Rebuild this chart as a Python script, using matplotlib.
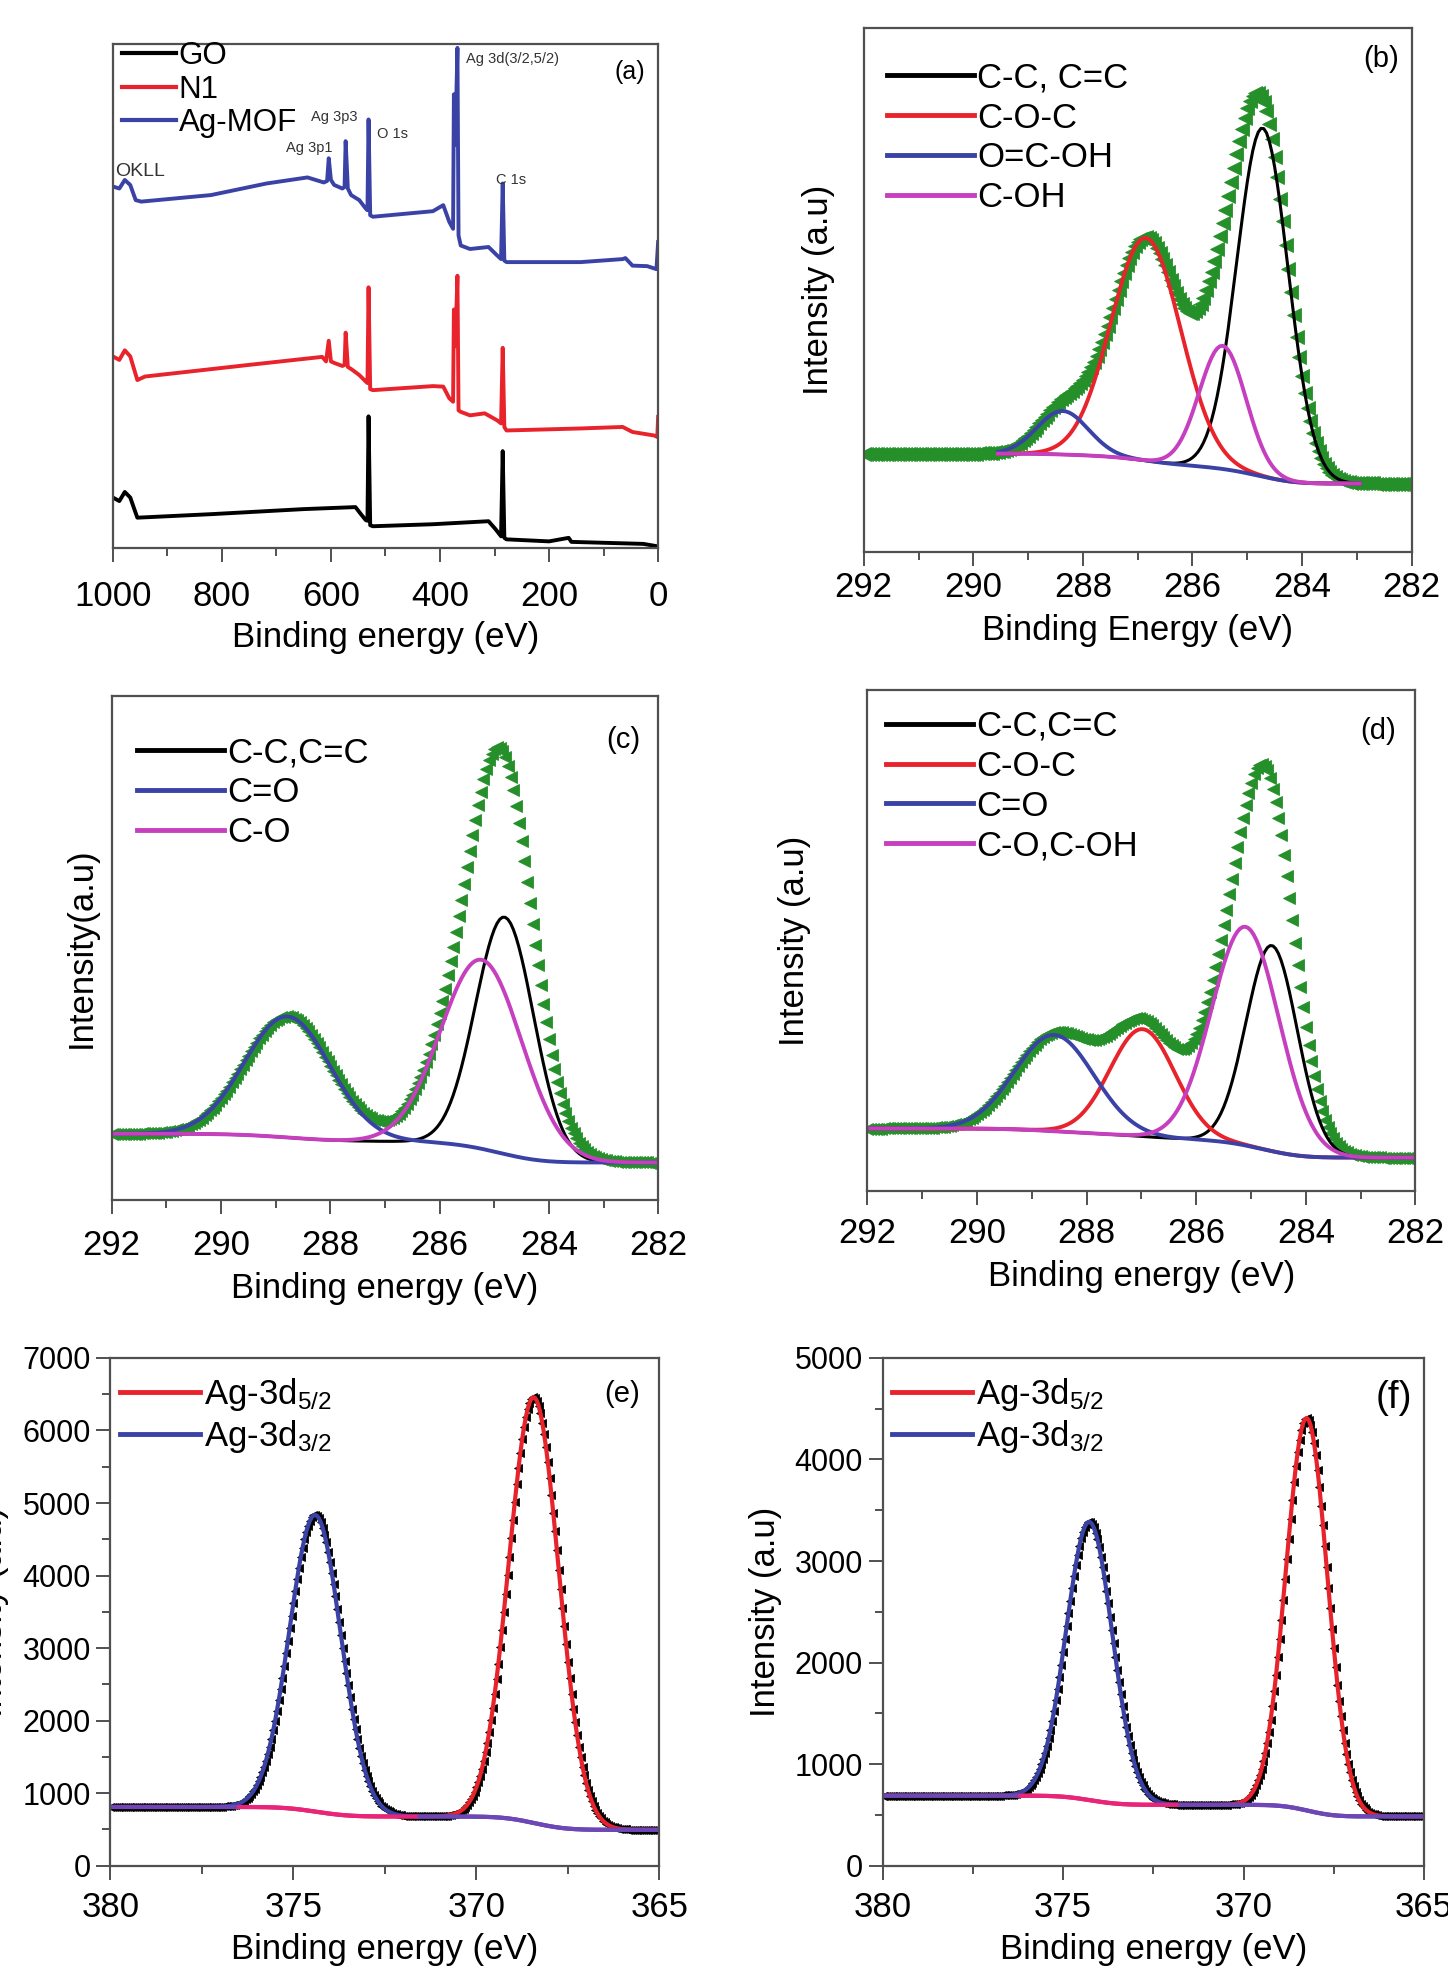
import numpy as np
import matplotlib
matplotlib.use("Agg")
import matplotlib.pyplot as plt
from matplotlib.ticker import MultipleLocator

plt.rcParams['font.family'] = ['Liberation Sans', 'DejaVu Sans']
plt.rcParams['mathtext.fontset'] = 'custom'
plt.rcParams['mathtext.rm'] = 'Liberation Sans'
plt.rcParams['mathtext.it'] = 'Liberation Sans:italic'

RED = '#e8232b'
BLUE = '#3a42a6'
MAGENTA = '#c53fbf'
GREEN = '#25902a'
PINK = '#e8247c'
PURPLE = '#6f46b5'
SPINE = '#505050'

# ---- (a) survey spectra (binding energy eV, intensity a.u. with offsets)
go_ev = [1000, 988, 978, 968, 955, 819, 650, 555, 545, 536, 533, 531, 528, 523,
         413, 311, 298, 288, 285, 282, 278, 200, 164, 159, 27, 0]
go_int = [0.100, 0.093, 0.111, 0.100, 0.060, 0.067, 0.077, 0.081, 0.067, 0.055,
          0.054, 0.261, 0.045, 0.043, 0.047, 0.053, 0.037, 0.023, 0.192, 0.020,
          0.017, 0.013, 0.020, 0.012, 0.008, 0.003]
n1_ev = [1000, 988, 978, 968, 955, 941, 751, 616, 609, 604, 600, 594, 579, 575,
         573, 569, 563, 548, 536, 533, 531, 528, 523, 413, 394, 383, 376, 374.5,
         372, 368, 366, 362, 345, 318, 295, 288, 285, 282, 278, 142, 65, 47, 7,
         1.5, 0]
n1_int = [0.380, 0.373, 0.392, 0.380, 0.333, 0.340, 0.363, 0.379, 0.370, 0.411,
          0.370, 0.367, 0.361, 0.363, 0.427, 0.359, 0.355, 0.343, 0.330, 0.327,
          0.517, 0.315, 0.313, 0.321, 0.320, 0.297, 0.290, 0.473, 0.400, 0.540,
          0.273, 0.270, 0.263, 0.267, 0.253, 0.247, 0.397, 0.240, 0.233, 0.237,
          0.240, 0.230, 0.223, 0.220, 0.260]
agmof_ev = [1000, 988, 978, 968, 958, 948, 820, 718, 643, 613, 607, 604, 600, 594,
            579, 575, 573, 569, 563, 548, 536, 533, 531, 528, 523, 413, 394, 383,
            376, 374.5, 372, 368, 366, 362, 345, 311, 295, 288, 285, 282, 278, 142,
            65, 60, 47, 20, 3, 0]
agmof_int = [0.717, 0.713, 0.730, 0.720, 0.690, 0.687, 0.700, 0.723, 0.735, 0.725,
             0.728, 0.773, 0.730, 0.720, 0.713, 0.716, 0.807, 0.713, 0.700, 0.690,
             0.673, 0.670, 0.850, 0.660, 0.657, 0.668, 0.680, 0.647, 0.633, 0.900,
             0.800, 0.992, 0.620, 0.600, 0.593, 0.597, 0.580, 0.573, 0.723, 0.570,
             0.567, 0.567, 0.573, 0.575, 0.560, 0.559, 0.553, 0.607]
survey_notes = ['OKLL', 'Ag 3p1', 'Ag 3p3', 'O 1s', 'Ag 3d(3/2,5/2)', 'C 1s']
note_ev = [995, 639, 594, 487, 352, 269]
note_int = [0.747, 0.793, 0.855, 0.821, 0.970, 0.730]

# ---- (b) C1s GO fit: centers (eV), heights, FWHM
b_labels = ['C-C, C=C', 'C-O-C', 'O=C-OH', 'C-OH']
b_centers = [284.72, 286.85, 288.37, 285.45]
b_heights = [0.665, 0.425, 0.083, 0.235]
b_fwhm = [1.10, 1.50, 1.10, 1.00]
b_bg = [0.130, 0.187]          # background at low-BE end, high-BE end
b_range = [282.95, 289.6]

# ---- (c)
c_labels = ['C-C,C=C', 'C=O', 'C-O']
c_centers = [284.81, 288.78, 285.23]
c_heights = [0.470, 0.240, 0.375]
c_fwhm = [1.25, 1.85, 1.75]
c_bg = [0.074, 0.131]
c_range = [282.0, 292.0]

# ---- (d)
d_labels = ['C-C,C=C', 'C-O-C', 'C=O', 'C-O,C-OH']
d_centers = [284.62, 286.98, 288.59, 285.10]
d_heights = [0.410, 0.214, 0.192, 0.436]
d_fwhm = [1.10, 1.40, 1.70, 1.45]
d_bg = [0.067, 0.125]
d_range = [282.0, 292.0]

# ---- (e), (f) Ag 3d
ag_labels = ['Ag-3d$_{5/2}$', 'Ag-3d$_{3/2}$']
e_centers = [368.43, 374.40]
e_heights = [5870, 4090]
e_fwhm = [1.60, 1.65]
e_bg = [495, 810]
e_pink = [371.6, 376.6]
f_centers = [368.25, 374.27]
f_heights = [3865, 2740]
f_fwhm = [1.35, 1.50]
f_bg = [485, 690]
f_pink = [371.8, 376.3]


def gauss(x, c, h, w):
    return h * np.exp(-4 * np.log(2) * ((x - c) / w) ** 2)


def shirley(total, lo, hi):
    cum = np.cumsum(total)
    return lo + (hi - lo) * cum / cum[-1]


def style(ax, xlim, major, minor, pad, left=False):
    for s in ax.spines.values():
        s.set_color(SPINE)
        s.set_linewidth(1.6)
    ax.set_xlim(*xlim)
    ax.xaxis.set_major_locator(MultipleLocator(major))
    ax.xaxis.set_minor_locator(MultipleLocator(minor))
    ax.tick_params(axis='both', which='major', direction='out', length=10, width=1.4,
                   color=SPINE, labelsize=25, pad=4, top=False, right=False)
    ax.tick_params(axis='x', which='major', pad=pad)
    ax.tick_params(axis='both', which='minor', direction='out', length=6, width=1.4,
                   color=SPINE, top=False, right=False)
    if not left:
        ax.set_yticks([])


fig = plt.figure(figsize=(14.48, 19.66), dpi=100)

# ================= (a)
ax = fig.add_axes([0.0779, 0.7213, 0.3766, 0.2564])
ax.plot(go_ev, go_int, color='black', lw=2.8, label='GO')
ax.plot(n1_ev, n1_int, color=RED, lw=2.8, label='N1')
ax.plot(agmof_ev, agmof_int, color=BLUE, lw=2.8, label='Ag-MOF')
style(ax, (1000, 0), 200, 100, 13)
ax.set_ylim(0, 1.0)
for t, xe, yi in zip(survey_notes, note_ev, note_int):
    ha = 'left' if t in ('OKLL', 'Ag 3d(3/2,5/2)') else 'center'
    ax.text(xe, yi, t, fontsize=14 if t == 'OKLL' else 10.5, ha=ha, va='center',
            color='#333333')
ax.text(0.948, 0.945, '(a)', transform=ax.transAxes, fontsize=18, ha='center', va='center')
leg = ax.legend(loc='upper left', bbox_to_anchor=(0.012, 1.012), frameon=False, fontsize=22.5,
                handlelength=1.7, handletextpad=0.1, labelspacing=0.12, borderaxespad=0,
                borderpad=0.1)
for ln in leg.get_lines():
    ln.set_linewidth(3)
ax.set_xlabel('Binding energy (eV)', fontsize=25, labelpad=6)


def fit_panel(rect, centers, heights, fwhm, bg, fit_range, colors, labels,
              ms, ylabel, lpad, tag, tag_xy, leg_xy, pad):
    ax = fig.add_axes(rect)
    grid = np.arange(282.0, 292.0001, 0.05)
    comps = [gauss(grid, c, h, w) for c, h, w in zip(centers, heights, fwhm)]
    total = np.sum(comps, axis=0)
    base = shirley(total, bg[0], bg[1])
    ax.plot(grid, base + total, ls='none', marker='<', ms=ms, color=GREEN,
            markeredgewidth=0.6, markeredgecolor=GREEN)
    inside = (grid >= fit_range[0]) & (grid <= fit_range[1])
    for comp, col, lab in zip(comps, colors, labels):
        ax.plot(grid[inside], (base + comp)[inside], color=col,
                lw=2.2 if col == 'black' else 2.8, label=lab)
    style(ax, (292, 282), 2, 1, pad)
    ax.set_ylim(0, 1)
    ax.set_ylabel(ylabel, fontsize=25, labelpad=lpad)
    ax.text(tag_xy[0], tag_xy[1], tag, transform=ax.transAxes, fontsize=21,
            ha='center', va='center')
    leg = ax.legend(loc='upper left', bbox_to_anchor=leg_xy, frameon=False, fontsize=25,
                    handlelength=2.5, handletextpad=0.1, labelspacing=0.2,
                    borderaxespad=0, borderpad=0)
    for ln in leg.get_lines():
        ln.set_linewidth(3.5)
    return ax


ax = fit_panel([0.5965, 0.7194, 0.3784, 0.2666], b_centers, b_heights, b_fwhm, b_bg,
               b_range, ['black', RED, BLUE, MAGENTA], b_labels, 10,
               'Intensity (a.u)', 21, '(b)', (0.945, 0.94), (0.042, 0.935), 4)
ax.set_xlabel('Binding Energy (eV)', fontsize=25, labelpad=7)

ax = fit_panel([0.0771, 0.3897, 0.3775, 0.2564], c_centers, c_heights, c_fwhm, c_bg,
               c_range, ['black', BLUE, MAGENTA], c_labels, 8.5,
               'Intensity(a.u)', 10, '(c)', (0.936, 0.913), (0.046, 0.92), 11)
ax.set_xlabel('Binding energy (eV)', fontsize=25, labelpad=7)

ax = fit_panel([0.5991, 0.3941, 0.3784, 0.2551], d_centers, d_heights, d_fwhm, d_bg,
               d_range, ['black', RED, BLUE, MAGENTA], d_labels, 8.5,
               'Intensity (a.u)', 41, '(d)', (0.932, 0.918), (0.034, 0.96), 8.5)
ax.set_xlabel('Binding energy (eV)', fontsize=25, labelpad=7)


def ag_panel(rect, centers, heights, fwhm, bg, pink, ymax, tag, tag_xy, tag_size):
    ax = fig.add_axes(rect)
    grid = np.arange(365.0, 380.0001, 0.05)
    comps = [gauss(grid, c, h, w) for c, h, w in zip(centers, heights, fwhm)]
    total = np.sum(comps, axis=0)
    base = shirley(total, bg[0], bg[1])
    ax.plot(grid, base + total, ls='none', marker='<', ms=5.5, color='black',
            markeredgewidth=0.6)
    for comp, col, lab in zip(comps, [RED, BLUE], ag_labels):
        ax.plot(grid, base + comp, color=col, lw=3, label=lab)
    mid = (grid >= pink[0]) & (grid <= pink[1])
    ax.plot(grid, np.where(mid, base, np.nan), color=PINK, lw=3)
    ax.plot(grid, np.where(mid, np.nan, base), color=PURPLE, lw=3)
    style(ax, (380, 365), 5, 2.5, 8, left=True)
    ax.tick_params(axis='y', which='major', labelsize=22)
    ax.set_ylim(0, ymax)
    ax.yaxis.set_major_locator(MultipleLocator(1000))
    ax.yaxis.set_minor_locator(MultipleLocator(500))
    ax.set_ylabel('Intensity (a.u)', fontsize=25)
    ax.yaxis.set_label_coords(-0.185, 0.5)
    ax.set_xlabel('Binding energy (eV)', fontsize=25, labelpad=7)
    ax.text(tag_xy[0], tag_xy[1], tag, transform=ax.transAxes, fontsize=tag_size,
            ha='center', va='center')
    leg = ax.legend(loc='upper left', bbox_to_anchor=(0.018, 0.965), frameon=False,
                    fontsize=25, handlelength=2.3, handletextpad=0.1, labelspacing=0.15,
                    borderaxespad=0, borderpad=0)
    for ln in leg.get_lines():
        ln.set_linewidth(3.5)
    return ax


ag_panel([0.0762, 0.0510, 0.3792, 0.2583], e_centers, e_heights, e_fwhm, e_bg, e_pink,
         7000, '(e)', (0.932, 0.928), 21)
ag_panel([0.6095, 0.0510, 0.3740, 0.2583], f_centers, f_heights, f_fwhm, f_bg, f_pink,
         5000, '(f)', (0.945, 0.921), 28)

fig.savefig('out.png', dpi=100)
